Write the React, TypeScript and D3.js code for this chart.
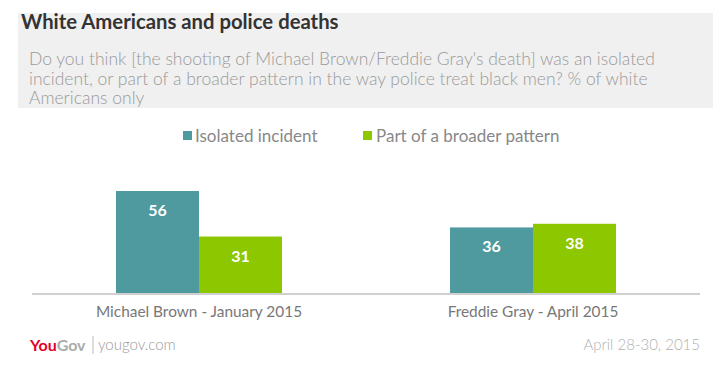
import React from "react";
import * as d3 from "d3";

const categories = ["Michael Brown - January 2015", "Freddie Gray - April 2015"];
const seriesNames = ["Isolated incident", "Part of a broader pattern"];
const isolated = [56, 36];
const broader = [31, 38];
const colors = ["#4f9a9f", "#8cc700"];

const W = 720;
const H = 381;
const font = "Lato, 'Open Sans', sans-serif";

export default function App() {
  const x0 = d3.scaleBand<string>().domain(categories).range([32, 700]).padding(0);
  const groupW = 166;
  const x1 = d3.scaleBand<string>().domain(seriesNames).range([0, groupW]).padding(0);
  const y = d3.scaleLinear().domain([0, 56]).range([293, 191]);
  const values = [isolated, broader];

  return (
    <svg width={W} height={H} style={{ position: "absolute", left: 0, top: 0, background: "#fff" }}>
      <rect x={18} y={13} width={695} height={95} fill="#f0f0f0" />
      <text x={21} y={29} fontFamily={font} fontWeight={700} fontSize={20.3} fill="#333">
        White Americans and police deaths
      </text>
      <g fontFamily={font} fontWeight={300} fontSize={17.5} fill="#9a9a9a">
        <text x={29} y={65}>Do you think [the shooting of Michael Brown/Freddie Gray's death] was an isolated</text>
        <text x={29} y={85}>incident, or part of a broader pattern in the way police treat black men? % of white</text>
        <text x={29} y={104}>Americans only</text>
      </g>
      {/* legend */}
      <g fontFamily={font} fontSize={17} fill="#888">
        <rect x={183} y={131} width={9} height={9} fill={colors[0]} />
        <text x={195} y={142}>{seriesNames[0]}</text>
        <rect x={363} y={131} width={9} height={9} fill={colors[1]} />
        <text x={376} y={142}>{seriesNames[1]}</text>
      </g>
      {categories.map((c, i) => {
        const gx = (x0(c) as number) + (x0.bandwidth() - groupW) / 2;
        return (
          <g key={c}>
            {seriesNames.map((s, j) => {
              const v = values[j][i];
              const bx = gx + (x1(s) as number);
              return (
                <g key={s}>
                  <rect x={bx} y={y(v)} width={x1.bandwidth()} height={y(0) - y(v)} fill={colors[j]} />
                  <text
                    x={bx + x1.bandwidth() / 2}
                    y={y(v) + 25}
                    textAnchor="middle"
                    fontFamily={font}
                    fontWeight={700}
                    fontSize={16}
                    fill="#fff"
                  >
                    {v}
                  </text>
                </g>
              );
            })}
            <text
              x={(x0(c) as number) + x0.bandwidth() / 2}
              y={317}
              textAnchor="middle"
              fontFamily={font}
              fontSize={15.4}
              fill="#777"
            >
              {c}
            </text>
          </g>
        );
      })}
      <line x1={32} x2={700} y1={294} y2={294} stroke="#d0d0d0" strokeWidth={2} />
      {/* footer */}
      <text x={30} y={351} fontFamily={font} fontSize={16} fontWeight={700}>
        <tspan fill="#e4002b">You</tspan>
        <tspan fill="#aaa">Gov</tspan>
      </text>
      <line x1={93} x2={93} y1={336} y2={354} stroke="#bbb" strokeWidth={1} />
      <text x={98} y={350} fontFamily={font} fontWeight={300} fontSize={15} fill="#999">yougov.com</text>
      <text x={700} y={350} textAnchor="end" fontFamily={font} fontWeight={300} fontSize={15} fill="#b0b0b0">
        April 28-30, 2015
      </text>
    </svg>
  );
}
